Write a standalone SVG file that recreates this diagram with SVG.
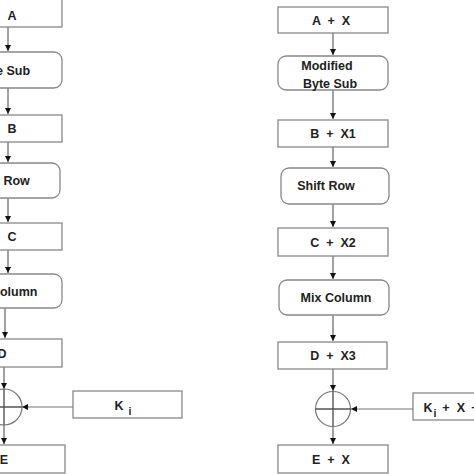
<svg xmlns="http://www.w3.org/2000/svg" width="474" height="474" viewBox="0 0 474 474">
<defs>
<marker id="ah" markerWidth="8" markerHeight="8" refX="6" refY="3" orient="auto" markerUnits="userSpaceOnUse">
<path d="M0,0 L6,3 L0,6 z" fill="#111"/>
</marker>
<style>
.box{fill:#fff;stroke:#888;stroke-width:1.3}
.op{fill:none;stroke:#777;stroke-width:1.2}
.cx{stroke:#555;stroke-width:1.4}
.ln{stroke:#444;stroke-width:1;fill:none;marker-end:url(#ah)}
.ln2{stroke:#777;stroke-width:1.2;fill:none;marker-end:url(#ah)}
text{font-family:"Liberation Sans",Arial,sans-serif;font-weight:bold;font-size:12.5px;fill:#222;text-anchor:middle;white-space:pre}
.sub{font-size:10.5px}
</style>
</defs>
<rect width="474" height="474" fill="#fff"/>

<g id="connectors">
<line class="ln" x1="8" y1="27" x2="8" y2="51"/>
<line class="ln" x1="8" y1="88" x2="8" y2="114"/>
<line class="ln" x1="8" y1="142" x2="8" y2="162"/>
<line class="ln" x1="8" y1="198" x2="8" y2="222"/>
<line class="ln" x1="8" y1="250" x2="8" y2="273"/>
<line class="ln" x1="5" y1="308" x2="5" y2="338"/>
<line class="ln" x1="4" y1="367" x2="4" y2="389"/>
<line class="ln" x1="4" y1="425" x2="4" y2="444"/>
<line class="ln2" x1="73" y1="407" x2="22" y2="407"/>
<line class="ln" x1="333" y1="33" x2="333" y2="55"/>
<line class="ln" x1="333" y1="90" x2="333" y2="119"/>
<line class="ln" x1="333" y1="147" x2="333" y2="167"/>
<line class="ln" x1="333" y1="204" x2="333" y2="227"/>
<line class="ln" x1="333" y1="256" x2="333" y2="279"/>
<line class="ln" x1="333" y1="315" x2="333" y2="341"/>
<line class="ln" x1="333" y1="369" x2="333" y2="391"/>
<line class="ln" x1="333" y1="427" x2="333" y2="444"/>
<line class="ln2" x1="413" y1="409" x2="351" y2="409"/>
</g>

<g id="A"><rect class="box" x="-46" y="-2" width="108" height="29"/><text x="12" y="20">A</text></g>
<g id="ByteSub"><rect class="box" x="-46" y="52" width="108" height="36" rx="8"/><text x="3" y="75">Byte Sub</text></g>
<g id="B"><rect class="box" x="-46" y="115" width="108" height="27"/><text x="12" y="133">B</text></g>
<g id="ShiftRow"><rect class="box" x="-48" y="163" width="108" height="35" rx="8"/><text x="1" y="185">Shift Row</text></g>
<g id="C"><rect class="box" x="-46" y="223" width="108" height="27"/><text x="12" y="241">C</text></g>
<g id="MixColumn"><rect class="box" x="-46" y="274" width="108" height="34" rx="8"/><text x="2" y="296">Mix Column</text></g>
<g id="D"><rect class="box" x="-46" y="339" width="108" height="28"/><text x="2" y="358">D</text></g>
<g id="xor1"><circle class="op" cx="4" cy="407" r="18"/><line class="cx" x1="4" y1="389" x2="4" y2="425"/><line class="cx" x1="-14" y1="407" x2="22" y2="407"/></g>
<g id="Ki"><rect class="box" x="73" y="391" width="109" height="27"/><text x="119" y="410">K</text><text class="sub" x="130" y="415">i</text></g>
<g id="E"><rect class="box" x="-46" y="445" width="111" height="28"/><text x="4" y="464">E</text></g>

<g id="AX"><rect class="box" x="278" y="7" width="110" height="26"/><text x="331" y="25">A  +  X</text></g>
<g id="ModByteSub"><rect class="box" x="278" y="56" width="110" height="34" rx="8"/><text x="327" y="70">Modified</text><text x="330" y="88">Byte Sub</text></g>
<g id="BX1"><rect class="box" x="278" y="120" width="110" height="27"/><text x="333" y="138">B  +  X1</text></g>
<g id="ShiftRow2"><rect class="box" x="281" y="168" width="108" height="36" rx="8"/><text x="326" y="190">Shift Row</text></g>
<g id="CX2"><rect class="box" x="278" y="228" width="110" height="28"/><text x="333" y="247">C  +  X2</text></g>
<g id="MixColumn2"><rect class="box" x="279" y="280" width="110" height="35" rx="8"/><text x="336" y="302">Mix Column</text></g>
<g id="DX3"><rect class="box" x="278" y="342" width="109" height="27"/><text x="333" y="360">D  +  X3</text></g>
<g id="xor2"><circle class="op" cx="333" cy="409" r="17.5"/><line class="cx" x1="333" y1="391.5" x2="333" y2="426.5"/><line class="cx" x1="315.5" y1="409" x2="350.5" y2="409"/></g>
<g id="KiX"><rect class="box" x="413" y="393" width="80" height="27"/><text x="428" y="412">K</text><text class="sub" x="435" y="417">i</text><text x="446" y="412">+</text><text x="461" y="412">X</text><text x="475" y="412">+</text></g>
<g id="EX"><rect class="box" x="278" y="445" width="110" height="28"/><text x="331" y="464">E  +  X</text></g>
</svg>
